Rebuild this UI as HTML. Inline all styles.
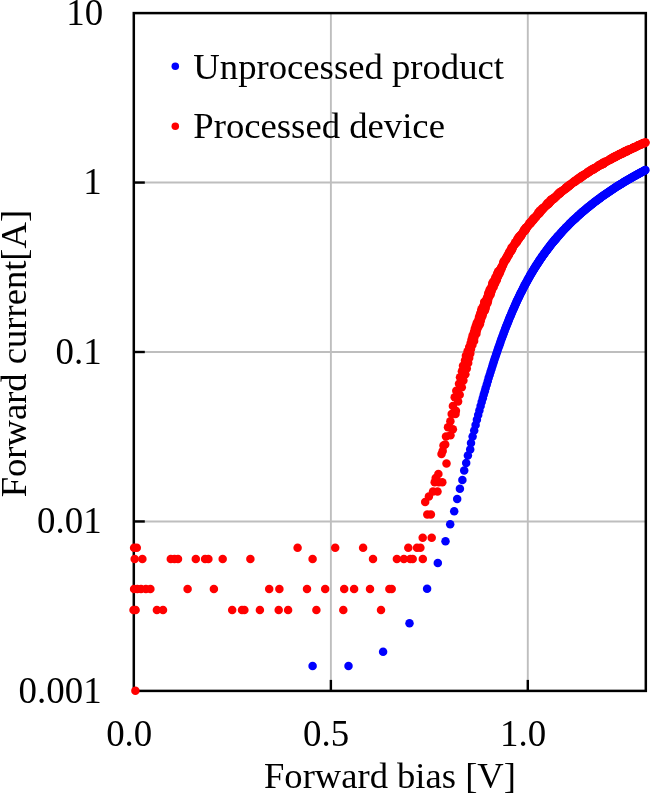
<!DOCTYPE html><html><head><meta charset="utf-8"><title>Forward current vs forward bias</title><style>html,body{margin:0;padding:0;background:#fff}body{width:650px;height:796px;overflow:hidden}</style></head><body><svg width="650" height="796" viewBox="0 0 650 796" style="display:block"><rect width="650" height="796" fill="#fff"/><g stroke="#bebebe" stroke-width="1.9"><line x1="133.8" y1="521.45" x2="645.81" y2="521.45"/><line x1="133.8" y1="352.00" x2="645.81" y2="352.00"/><line x1="133.8" y1="182.55" x2="645.81" y2="182.55"/><line x1="330.88" y1="13.10" x2="330.88" y2="690.90"/><line x1="527.80" y1="13.10" x2="527.80" y2="690.90"/></g><g stroke="#000" stroke-width="2.4"><line x1="133.8" y1="521.45" x2="144.8" y2="521.45"/><line x1="133.8" y1="352.00" x2="144.8" y2="352.00"/><line x1="133.8" y1="182.55" x2="144.8" y2="182.55"/><line x1="330.88" y1="679.90" x2="330.88" y2="690.90"/><line x1="527.80" y1="679.90" x2="527.80" y2="690.90"/></g><rect x="133.8" y="13.10" width="512.01" height="677.80" fill="none" stroke="#000" stroke-width="2.5"/><g fill="#0000ff"><circle cx="312.6" cy="666.1" r="4.25"/><circle cx="348.5" cy="666.1" r="4.25"/><circle cx="383.1" cy="651.7" r="4.25"/><circle cx="409.5" cy="623.2" r="4.25"/><circle cx="427.1" cy="588.8" r="4.25"/><circle cx="437.8" cy="563.1" r="4.25"/><circle cx="445.5" cy="541.2" r="4.25"/><circle cx="450.2" cy="524.2" r="4.25"/><circle cx="454.2" cy="511.2" r="4.25"/><circle cx="457.2" cy="498.9" r="4.25"/><circle cx="459.9" cy="488.8" r="4.25"/><circle cx="462.4" cy="479.9" r="4.25"/><circle cx="464.2" cy="470.6" r="4.25"/><circle cx="466.2" cy="462.9" r="4.25"/><circle cx="467.9" cy="455.5" r="4.25"/><circle cx="470.2" cy="449.4" r="4.25"/><circle cx="471.0" cy="443.0" r="4.25"/><circle cx="472.6" cy="436.5" r="4.25"/><circle cx="474.2" cy="430.5" r="4.25"/><circle cx="475.6" cy="424.9" r="4.25"/><circle cx="476.9" cy="419.8" r="4.25"/><circle cx="478.2" cy="414.9" r="4.25"/><circle cx="479.4" cy="410.4" r="4.25"/><circle cx="480.6" cy="406.1" r="4.25"/><circle cx="481.7" cy="402.1" r="4.25"/><circle cx="482.8" cy="398.3" r="4.25"/><circle cx="483.8" cy="394.6" r="4.25"/><circle cx="484.8" cy="391.2" r="4.25"/><circle cx="485.7" cy="387.9" r="4.25"/><circle cx="486.8" cy="384.4" r="4.25"/><circle cx="487.8" cy="381.0" r="4.25"/><circle cx="488.7" cy="377.8" r="4.25"/><circle cx="489.7" cy="374.7" r="4.25"/><circle cx="490.6" cy="371.8" r="4.25"/><circle cx="491.5" cy="369.0" r="4.25"/><circle cx="492.3" cy="366.2" r="4.25"/><circle cx="493.2" cy="363.6" r="4.25"/><circle cx="494.0" cy="361.1" r="4.25"/><circle cx="494.8" cy="358.6" r="4.25"/><circle cx="495.6" cy="356.2" r="4.25"/><circle cx="496.3" cy="353.9" r="4.25"/><circle cx="497.1" cy="351.7" r="4.25"/><circle cx="497.8" cy="349.5" r="4.25"/><circle cx="498.5" cy="347.4" r="4.25"/><circle cx="499.3" cy="345.4" r="4.25"/><circle cx="500.0" cy="343.4" r="4.25"/><circle cx="500.6" cy="341.4" r="4.25"/><circle cx="501.3" cy="339.6" r="4.25"/><circle cx="502.0" cy="337.7" r="4.25"/><circle cx="502.6" cy="335.9" r="4.25"/><circle cx="503.3" cy="334.2" r="4.25"/><circle cx="503.9" cy="332.5" r="4.25"/><circle cx="504.6" cy="330.8" r="4.25"/><circle cx="505.2" cy="329.1" r="4.25"/><circle cx="505.8" cy="327.5" r="4.25"/><circle cx="506.4" cy="326.0" r="4.25"/><circle cx="507.0" cy="324.4" r="4.25"/><circle cx="507.6" cy="322.9" r="4.25"/><circle cx="508.2" cy="321.5" r="4.25"/><circle cx="508.8" cy="320.0" r="4.25"/><circle cx="509.3" cy="318.6" r="4.25"/><circle cx="509.9" cy="317.2" r="4.25"/><circle cx="510.5" cy="315.9" r="4.25"/><circle cx="511.0" cy="314.5" r="4.25"/><circle cx="511.6" cy="313.2" r="4.25"/><circle cx="512.1" cy="311.9" r="4.25"/><circle cx="512.7" cy="310.6" r="4.25"/><circle cx="513.2" cy="309.4" r="4.25"/><circle cx="513.8" cy="308.2" r="4.25"/><circle cx="514.3" cy="307.0" r="4.25"/><circle cx="514.8" cy="305.8" r="4.25"/><circle cx="515.4" cy="304.6" r="4.25"/><circle cx="515.9" cy="303.5" r="4.25"/><circle cx="516.4" cy="302.3" r="4.25"/><circle cx="516.9" cy="301.2" r="4.25"/><circle cx="517.4" cy="300.1" r="4.25"/><circle cx="517.9" cy="299.0" r="4.25"/><circle cx="518.4" cy="298.0" r="4.25"/><circle cx="518.9" cy="296.9" r="4.25"/><circle cx="519.4" cy="295.9" r="4.25"/><circle cx="519.9" cy="294.8" r="4.25"/><circle cx="520.4" cy="293.8" r="4.25"/><circle cx="520.9" cy="292.8" r="4.25"/><circle cx="521.4" cy="291.9" r="4.25"/><circle cx="521.9" cy="290.9" r="4.25"/><circle cx="522.4" cy="289.9" r="4.25"/><circle cx="522.8" cy="289.0" r="4.25"/><circle cx="523.3" cy="288.1" r="4.25"/><circle cx="523.8" cy="287.1" r="4.25"/><circle cx="524.3" cy="286.2" r="4.25"/><circle cx="524.7" cy="285.3" r="4.25"/><circle cx="525.2" cy="284.4" r="4.25"/><circle cx="525.7" cy="283.6" r="4.25"/><circle cx="526.2" cy="282.7" r="4.25"/><circle cx="526.6" cy="281.8" r="4.25"/><circle cx="527.1" cy="281.0" r="4.25"/><circle cx="527.5" cy="280.2" r="4.25"/><circle cx="528.0" cy="279.3" r="4.25"/><circle cx="528.5" cy="278.5" r="4.25"/><circle cx="528.9" cy="277.7" r="4.25"/><circle cx="529.4" cy="276.9" r="4.25"/><circle cx="529.8" cy="276.1" r="4.25"/><circle cx="530.3" cy="275.3" r="4.25"/><circle cx="530.7" cy="274.6" r="4.25"/><circle cx="531.2" cy="273.8" r="4.25"/><circle cx="531.6" cy="273.0" r="4.25"/><circle cx="532.1" cy="272.3" r="4.25"/><circle cx="532.5" cy="271.5" r="4.25"/><circle cx="533.0" cy="270.8" r="4.25"/><circle cx="533.4" cy="270.1" r="4.25"/><circle cx="533.8" cy="269.4" r="4.25"/><circle cx="534.3" cy="268.6" r="4.25"/><circle cx="534.7" cy="267.9" r="4.25"/><circle cx="535.1" cy="267.2" r="4.25"/><circle cx="535.6" cy="266.5" r="4.25"/><circle cx="536.0" cy="265.8" r="4.25"/><circle cx="536.5" cy="265.2" r="4.25"/><circle cx="536.9" cy="264.5" r="4.25"/><circle cx="537.3" cy="263.8" r="4.25"/><circle cx="537.8" cy="263.2" r="4.25"/><circle cx="538.2" cy="262.5" r="4.25"/><circle cx="538.6" cy="261.9" r="4.25"/><circle cx="539.0" cy="261.2" r="4.25"/><circle cx="539.5" cy="260.6" r="4.25"/><circle cx="539.9" cy="259.9" r="4.25"/><circle cx="540.3" cy="259.3" r="4.25"/><circle cx="540.7" cy="258.7" r="4.25"/><circle cx="541.2" cy="258.1" r="4.25"/><circle cx="541.6" cy="257.4" r="4.25"/><circle cx="542.0" cy="256.8" r="4.25"/><circle cx="542.4" cy="256.2" r="4.25"/><circle cx="542.9" cy="255.6" r="4.25"/><circle cx="543.3" cy="255.0" r="4.25"/><circle cx="543.7" cy="254.5" r="4.25"/><circle cx="544.1" cy="253.9" r="4.25"/><circle cx="544.5" cy="253.3" r="4.25"/><circle cx="544.9" cy="252.7" r="4.25"/><circle cx="545.4" cy="252.1" r="4.25"/><circle cx="545.8" cy="251.6" r="4.25"/><circle cx="546.2" cy="251.0" r="4.25"/><circle cx="546.6" cy="250.5" r="4.25"/><circle cx="547.0" cy="249.9" r="4.25"/><circle cx="547.4" cy="249.4" r="4.25"/><circle cx="547.8" cy="248.8" r="4.25"/><circle cx="548.3" cy="248.3" r="4.25"/><circle cx="548.7" cy="247.7" r="4.25"/><circle cx="549.1" cy="247.2" r="4.25"/><circle cx="549.5" cy="246.7" r="4.25"/><circle cx="549.9" cy="246.1" r="4.25"/><circle cx="550.3" cy="245.6" r="4.25"/><circle cx="550.7" cy="245.1" r="4.25"/><circle cx="551.1" cy="244.6" r="4.25"/><circle cx="551.5" cy="244.1" r="4.25"/><circle cx="551.9" cy="243.6" r="4.25"/><circle cx="552.3" cy="243.1" r="4.25"/><circle cx="552.7" cy="242.6" r="4.25"/><circle cx="553.1" cy="242.1" r="4.25"/><circle cx="553.6" cy="241.6" r="4.25"/><circle cx="554.0" cy="241.1" r="4.25"/><circle cx="554.4" cy="240.6" r="4.25"/><circle cx="554.8" cy="240.1" r="4.25"/><circle cx="555.2" cy="239.6" r="4.25"/><circle cx="555.6" cy="239.2" r="4.25"/><circle cx="556.0" cy="238.7" r="4.25"/><circle cx="556.4" cy="238.2" r="4.25"/><circle cx="556.8" cy="237.7" r="4.25"/><circle cx="557.2" cy="237.3" r="4.25"/><circle cx="557.6" cy="236.8" r="4.25"/><circle cx="558.0" cy="236.3" r="4.25"/><circle cx="558.4" cy="235.9" r="4.25"/><circle cx="558.8" cy="235.4" r="4.25"/><circle cx="559.2" cy="235.0" r="4.25"/><circle cx="560.0" cy="234.1" r="4.25"/><circle cx="560.8" cy="233.2" r="4.25"/><circle cx="561.6" cy="232.3" r="4.25"/><circle cx="562.3" cy="231.5" r="4.25"/><circle cx="563.1" cy="230.6" r="4.25"/><circle cx="563.9" cy="229.8" r="4.25"/><circle cx="564.7" cy="228.9" r="4.25"/><circle cx="565.5" cy="228.1" r="4.25"/><circle cx="566.3" cy="227.3" r="4.25"/><circle cx="567.1" cy="226.5" r="4.25"/><circle cx="567.8" cy="225.7" r="4.25"/><circle cx="568.6" cy="224.9" r="4.25"/><circle cx="569.4" cy="224.1" r="4.25"/><circle cx="570.2" cy="223.3" r="4.25"/><circle cx="571.0" cy="222.6" r="4.25"/><circle cx="571.7" cy="221.8" r="4.25"/><circle cx="572.5" cy="221.1" r="4.25"/><circle cx="573.3" cy="220.3" r="4.25"/><circle cx="574.1" cy="219.6" r="4.25"/><circle cx="574.8" cy="218.9" r="4.25"/><circle cx="575.6" cy="218.2" r="4.25"/><circle cx="576.4" cy="217.4" r="4.25"/><circle cx="577.1" cy="216.7" r="4.25"/><circle cx="577.9" cy="216.0" r="4.25"/><circle cx="578.7" cy="215.3" r="4.25"/><circle cx="579.4" cy="214.7" r="4.25"/><circle cx="580.2" cy="214.0" r="4.25"/><circle cx="581.0" cy="213.3" r="4.25"/><circle cx="581.7" cy="212.6" r="4.25"/><circle cx="582.5" cy="212.0" r="4.25"/><circle cx="583.2" cy="211.3" r="4.25"/><circle cx="584.0" cy="210.7" r="4.25"/><circle cx="584.8" cy="210.0" r="4.25"/><circle cx="585.5" cy="209.4" r="4.25"/><circle cx="586.3" cy="208.8" r="4.25"/><circle cx="587.0" cy="208.1" r="4.25"/><circle cx="587.8" cy="207.5" r="4.25"/><circle cx="588.6" cy="206.9" r="4.25"/><circle cx="589.3" cy="206.3" r="4.25"/><circle cx="590.1" cy="205.7" r="4.25"/><circle cx="590.8" cy="205.1" r="4.25"/><circle cx="591.6" cy="204.5" r="4.25"/><circle cx="592.3" cy="203.9" r="4.25"/><circle cx="593.1" cy="203.3" r="4.25"/><circle cx="593.8" cy="202.7" r="4.25"/><circle cx="594.6" cy="202.1" r="4.25"/><circle cx="595.3" cy="201.6" r="4.25"/><circle cx="596.1" cy="201.0" r="4.25"/><circle cx="596.8" cy="200.4" r="4.25"/><circle cx="597.6" cy="199.9" r="4.25"/><circle cx="598.3" cy="199.3" r="4.25"/><circle cx="599.1" cy="198.7" r="4.25"/><circle cx="599.8" cy="198.2" r="4.25"/><circle cx="600.6" cy="197.7" r="4.25"/><circle cx="601.3" cy="197.1" r="4.25"/><circle cx="602.0" cy="196.6" r="4.25"/><circle cx="602.8" cy="196.0" r="4.25"/><circle cx="603.5" cy="195.5" r="4.25"/><circle cx="604.3" cy="195.0" r="4.25"/><circle cx="605.0" cy="194.5" r="4.25"/><circle cx="605.7" cy="194.0" r="4.25"/><circle cx="606.5" cy="193.4" r="4.25"/><circle cx="607.2" cy="192.9" r="4.25"/><circle cx="608.0" cy="192.4" r="4.25"/><circle cx="608.7" cy="191.9" r="4.25"/><circle cx="609.4" cy="191.4" r="4.25"/><circle cx="610.2" cy="190.9" r="4.25"/><circle cx="610.9" cy="190.4" r="4.25"/><circle cx="611.6" cy="189.9" r="4.25"/><circle cx="612.4" cy="189.5" r="4.25"/><circle cx="613.1" cy="189.0" r="4.25"/><circle cx="613.9" cy="188.5" r="4.25"/><circle cx="614.6" cy="188.0" r="4.25"/><circle cx="615.3" cy="187.5" r="4.25"/><circle cx="616.1" cy="187.1" r="4.25"/><circle cx="616.8" cy="186.6" r="4.25"/><circle cx="617.5" cy="186.1" r="4.25"/><circle cx="618.2" cy="185.7" r="4.25"/><circle cx="619.0" cy="185.2" r="4.25"/><circle cx="619.7" cy="184.8" r="4.25"/><circle cx="620.4" cy="184.3" r="4.25"/><circle cx="621.2" cy="183.9" r="4.25"/><circle cx="621.9" cy="183.4" r="4.25"/><circle cx="622.6" cy="183.0" r="4.25"/><circle cx="623.4" cy="182.5" r="4.25"/><circle cx="624.1" cy="182.1" r="4.25"/><circle cx="624.8" cy="181.6" r="4.25"/><circle cx="625.5" cy="181.2" r="4.25"/><circle cx="626.3" cy="180.8" r="4.25"/><circle cx="627.0" cy="180.3" r="4.25"/><circle cx="627.7" cy="179.9" r="4.25"/><circle cx="628.4" cy="179.5" r="4.25"/><circle cx="629.2" cy="179.1" r="4.25"/><circle cx="629.9" cy="178.7" r="4.25"/><circle cx="630.6" cy="178.2" r="4.25"/><circle cx="631.3" cy="177.8" r="4.25"/><circle cx="632.0" cy="177.4" r="4.25"/><circle cx="632.8" cy="177.0" r="4.25"/><circle cx="633.5" cy="176.6" r="4.25"/><circle cx="634.2" cy="176.2" r="4.25"/><circle cx="634.9" cy="175.8" r="4.25"/><circle cx="635.6" cy="175.4" r="4.25"/><circle cx="636.4" cy="175.0" r="4.25"/><circle cx="637.1" cy="174.6" r="4.25"/><circle cx="637.8" cy="174.2" r="4.25"/><circle cx="638.5" cy="173.8" r="4.25"/><circle cx="639.2" cy="173.4" r="4.25"/><circle cx="640.0" cy="173.0" r="4.25"/><circle cx="640.7" cy="172.6" r="4.25"/><circle cx="641.4" cy="172.2" r="4.25"/><circle cx="642.1" cy="171.9" r="4.25"/><circle cx="642.8" cy="171.5" r="4.25"/><circle cx="643.5" cy="171.1" r="4.25"/><circle cx="644.2" cy="170.7" r="4.25"/><circle cx="645.0" cy="170.3" r="4.25"/><circle cx="645.4" cy="170.1" r="4.25"/></g><g fill="#ff0000"><circle cx="135.4" cy="690.8" r="4.25"/><circle cx="134.1" cy="547.7" r="4.25"/><circle cx="136.8" cy="547.7" r="4.25"/><circle cx="297.6" cy="547.7" r="4.25"/><circle cx="335.2" cy="547.7" r="4.25"/><circle cx="363.1" cy="547.7" r="4.25"/><circle cx="408.3" cy="547.7" r="4.25"/><circle cx="417.0" cy="547.7" r="4.25"/><circle cx="420.4" cy="547.7" r="4.25"/><circle cx="134.7" cy="559.1" r="4.25"/><circle cx="142.4" cy="559.1" r="4.25"/><circle cx="170.8" cy="559.1" r="4.25"/><circle cx="174.5" cy="559.1" r="4.25"/><circle cx="178.0" cy="559.1" r="4.25"/><circle cx="195.8" cy="559.1" r="4.25"/><circle cx="205.1" cy="559.1" r="4.25"/><circle cx="208.4" cy="559.1" r="4.25"/><circle cx="222.7" cy="559.1" r="4.25"/><circle cx="250.4" cy="559.1" r="4.25"/><circle cx="312.6" cy="559.1" r="4.25"/><circle cx="373.0" cy="559.1" r="4.25"/><circle cx="396.9" cy="559.1" r="4.25"/><circle cx="403.9" cy="559.1" r="4.25"/><circle cx="410.3" cy="559.1" r="4.25"/><circle cx="412.7" cy="559.1" r="4.25"/><circle cx="422.8" cy="559.1" r="4.25"/><circle cx="134.1" cy="588.9" r="4.25"/><circle cx="137.3" cy="588.9" r="4.25"/><circle cx="141.0" cy="588.9" r="4.25"/><circle cx="145.9" cy="588.9" r="4.25"/><circle cx="150.4" cy="588.9" r="4.25"/><circle cx="187.6" cy="588.9" r="4.25"/><circle cx="213.9" cy="588.9" r="4.25"/><circle cx="269.2" cy="588.9" r="4.25"/><circle cx="279.4" cy="588.9" r="4.25"/><circle cx="307.0" cy="588.9" r="4.25"/><circle cx="325.2" cy="588.9" r="4.25"/><circle cx="344.2" cy="588.9" r="4.25"/><circle cx="354.1" cy="588.9" r="4.25"/><circle cx="370.0" cy="588.9" r="4.25"/><circle cx="389.4" cy="588.9" r="4.25"/><circle cx="391.7" cy="588.9" r="4.25"/><circle cx="133.5" cy="610.0" r="4.25"/><circle cx="135.6" cy="610.0" r="4.25"/><circle cx="156.9" cy="610.0" r="4.25"/><circle cx="163.0" cy="610.0" r="4.25"/><circle cx="232.2" cy="610.0" r="4.25"/><circle cx="242.0" cy="610.0" r="4.25"/><circle cx="244.4" cy="610.0" r="4.25"/><circle cx="259.9" cy="610.0" r="4.25"/><circle cx="278.7" cy="610.0" r="4.25"/><circle cx="288.1" cy="610.0" r="4.25"/><circle cx="316.4" cy="610.0" r="4.25"/><circle cx="343.3" cy="610.0" r="4.25"/><circle cx="381.0" cy="610.0" r="4.25"/><circle cx="422.7" cy="537.8" r="4.25"/><circle cx="431.7" cy="537.8" r="4.25"/><circle cx="427.3" cy="514.4" r="4.25"/><circle cx="430.9" cy="514.4" r="4.25"/><circle cx="425.2" cy="502.1" r="4.25"/><circle cx="428.9" cy="496.4" r="4.25"/><circle cx="433.0" cy="491.5" r="4.25"/><circle cx="437.5" cy="491.5" r="4.25"/><circle cx="434.7" cy="482.3" r="4.25"/><circle cx="438.8" cy="482.3" r="4.25"/><circle cx="442.3" cy="482.3" r="4.25"/><circle cx="435.7" cy="478.0" r="4.25"/><circle cx="438.4" cy="474.1" r="4.25"/><circle cx="446.5" cy="463.4" r="4.25"/><circle cx="441.5" cy="454.0" r="4.25"/><circle cx="442.7" cy="451.1" r="4.25"/><circle cx="443.5" cy="445.6" r="4.25"/><circle cx="445.2" cy="444.6" r="4.25"/><circle cx="446.0" cy="436.6" r="4.25"/><circle cx="450.5" cy="435.2" r="4.25"/><circle cx="448.0" cy="427.3" r="4.25"/><circle cx="452.9" cy="429.2" r="4.25"/><circle cx="450.4" cy="421.3" r="4.25"/><circle cx="451.7" cy="414.1" r="4.25"/><circle cx="455.5" cy="414.1" r="4.25"/><circle cx="455.9" cy="410.8" r="4.25"/><circle cx="452.9" cy="406.0" r="4.25"/><circle cx="458.1" cy="401.6" r="4.25"/><circle cx="454.7" cy="397.3" r="4.25"/><circle cx="459.7" cy="394.7" r="4.25"/><circle cx="456.3" cy="390.8" r="4.25"/><circle cx="461.8" cy="387.2" r="4.25"/><circle cx="459.0" cy="383.7" r="4.25"/><circle cx="463.4" cy="380.4" r="4.25"/><circle cx="460.0" cy="377.2" r="4.25"/><circle cx="465.4" cy="374.2" r="4.25"/><circle cx="461.9" cy="371.2" r="4.25"/><circle cx="466.8" cy="368.4" r="4.25"/><circle cx="463.0" cy="365.7" r="4.25"/><circle cx="468.2" cy="363.1" r="4.25"/><circle cx="465.0" cy="360.6" r="4.25"/><circle cx="469.2" cy="358.1" r="4.25"/><circle cx="465.9" cy="355.8" r="4.25"/><circle cx="470.3" cy="353.5" r="4.25"/><circle cx="467.6" cy="351.3" r="4.25"/><circle cx="471.0" cy="349.1" r="4.25"/><circle cx="469.2" cy="347.0" r="4.25"/><circle cx="472.4" cy="345.0" r="4.25"/><circle cx="470.6" cy="343.0" r="4.25"/><circle cx="474.1" cy="341.1" r="4.25"/><circle cx="471.6" cy="339.2" r="4.25"/><circle cx="474.4" cy="337.4" r="4.25"/><circle cx="472.6" cy="335.6" r="4.25"/><circle cx="476.4" cy="333.8" r="4.25"/><circle cx="474.0" cy="332.1" r="4.25"/><circle cx="476.9" cy="330.5" r="4.25"/><circle cx="474.8" cy="328.8" r="4.25"/><circle cx="478.2" cy="327.2" r="4.25"/><circle cx="475.8" cy="325.7" r="4.25"/><circle cx="479.9" cy="324.2" r="4.25"/><circle cx="476.8" cy="322.7" r="4.25"/><circle cx="480.6" cy="321.2" r="4.25"/><circle cx="478.4" cy="319.7" r="4.25"/><circle cx="481.4" cy="318.3" r="4.25"/><circle cx="479.0" cy="317.0" r="4.25"/><circle cx="482.6" cy="315.6" r="4.25"/><circle cx="480.0" cy="314.3" r="4.25"/><circle cx="483.1" cy="313.0" r="4.25"/><circle cx="481.0" cy="311.7" r="4.25"/><circle cx="484.9" cy="310.4" r="4.25"/><circle cx="481.4" cy="309.2" r="4.25"/><circle cx="485.7" cy="307.9" r="4.25"/><circle cx="482.8" cy="306.7" r="4.25"/><circle cx="486.0" cy="305.5" r="4.25"/><circle cx="484.4" cy="304.4" r="4.25"/><circle cx="487.4" cy="303.2" r="4.25"/><circle cx="484.2" cy="302.1" r="4.25"/><circle cx="488.0" cy="301.0" r="4.25"/><circle cx="486.1" cy="299.9" r="4.25"/><circle cx="488.3" cy="298.8" r="4.25"/><circle cx="487.0" cy="297.8" r="4.25"/><circle cx="489.2" cy="296.7" r="4.25"/><circle cx="487.9" cy="295.7" r="4.25"/><circle cx="490.6" cy="294.6" r="4.25"/><circle cx="488.2" cy="293.6" r="4.25"/><circle cx="491.0" cy="292.7" r="4.25"/><circle cx="489.1" cy="291.7" r="4.25"/><circle cx="491.7" cy="290.7" r="4.25"/><circle cx="489.7" cy="289.8" r="4.25"/><circle cx="492.3" cy="288.8" r="4.25"/><circle cx="490.8" cy="287.9" r="4.25"/><circle cx="493.6" cy="287.0" r="4.25"/><circle cx="492.1" cy="286.1" r="4.25"/><circle cx="493.6" cy="285.2" r="4.25"/><circle cx="492.2" cy="284.3" r="4.25"/><circle cx="495.1" cy="283.4" r="4.25"/><circle cx="492.6" cy="282.5" r="4.25"/><circle cx="495.5" cy="281.7" r="4.25"/><circle cx="494.0" cy="280.8" r="4.25"/><circle cx="496.8" cy="280.0" r="4.25"/><circle cx="495.0" cy="279.2" r="4.25"/><circle cx="497.0" cy="278.4" r="4.25"/><circle cx="495.4" cy="277.6" r="4.25"/><circle cx="497.8" cy="276.8" r="4.25"/><circle cx="496.8" cy="276.0" r="4.25"/><circle cx="498.5" cy="275.2" r="4.25"/><circle cx="496.9" cy="274.4" r="4.25"/><circle cx="499.5" cy="273.6" r="4.25"/><circle cx="497.7" cy="272.9" r="4.25"/><circle cx="500.1" cy="272.1" r="4.25"/><circle cx="498.1" cy="271.4" r="4.25"/><circle cx="500.2" cy="270.7" r="4.25"/><circle cx="499.7" cy="269.9" r="4.25"/><circle cx="501.3" cy="269.2" r="4.25"/><circle cx="500.8" cy="268.5" r="4.25"/><circle cx="501.6" cy="267.8" r="4.25"/><circle cx="501.5" cy="267.1" r="4.25"/><circle cx="502.2" cy="266.4" r="4.25"/><circle cx="502.4" cy="265.7" r="4.25"/><circle cx="503.1" cy="265.0" r="4.25"/><circle cx="502.9" cy="264.4" r="4.25"/><circle cx="503.3" cy="263.7" r="4.25"/><circle cx="503.6" cy="263.0" r="4.25"/><circle cx="503.9" cy="262.4" r="4.25"/><circle cx="503.4" cy="261.7" r="4.25"/><circle cx="505.1" cy="261.1" r="4.25"/><circle cx="504.5" cy="260.4" r="4.25"/><circle cx="505.9" cy="259.8" r="4.25"/><circle cx="506.3" cy="259.2" r="4.25"/><circle cx="506.3" cy="258.6" r="4.25"/><circle cx="506.0" cy="257.9" r="4.25"/><circle cx="507.3" cy="257.3" r="4.25"/><circle cx="507.1" cy="256.7" r="4.25"/><circle cx="507.9" cy="256.1" r="4.25"/><circle cx="507.5" cy="255.5" r="4.25"/><circle cx="508.9" cy="254.9" r="4.25"/><circle cx="508.4" cy="254.3" r="4.25"/><circle cx="508.9" cy="253.8" r="4.25"/><circle cx="510.0" cy="252.6" r="4.25"/><circle cx="509.2" cy="252.0" r="4.25"/><circle cx="510.7" cy="251.5" r="4.25"/><circle cx="510.0" cy="250.9" r="4.25"/><circle cx="511.7" cy="250.3" r="4.25"/><circle cx="511.0" cy="249.8" r="4.25"/><circle cx="512.0" cy="249.2" r="4.25"/><circle cx="511.4" cy="248.7" r="4.25"/><circle cx="512.6" cy="248.2" r="4.25"/><circle cx="511.6" cy="247.6" r="4.25"/><circle cx="512.9" cy="247.1" r="4.25"/><circle cx="513.2" cy="246.0" r="4.25"/><circle cx="513.9" cy="245.5" r="4.25"/><circle cx="514.5" cy="244.5" r="4.25"/><circle cx="515.0" cy="244.0" r="4.25"/><circle cx="516.0" cy="243.0" r="4.25"/><circle cx="515.0" cy="242.5" r="4.25"/><circle cx="517.0" cy="242.0" r="4.25"/><circle cx="517.2" cy="241.0" r="4.25"/><circle cx="516.8" cy="240.5" r="4.25"/><circle cx="517.8" cy="240.0" r="4.25"/><circle cx="517.2" cy="239.5" r="4.25"/><circle cx="518.9" cy="239.1" r="4.25"/><circle cx="518.0" cy="238.6" r="4.25"/><circle cx="519.2" cy="238.1" r="4.25"/><circle cx="518.5" cy="237.6" r="4.25"/><circle cx="519.6" cy="237.2" r="4.25"/><circle cx="519.0" cy="236.7" r="4.25"/><circle cx="520.9" cy="236.3" r="4.25"/><circle cx="520.0" cy="235.8" r="4.25"/><circle cx="521.5" cy="235.3" r="4.25"/><circle cx="520.7" cy="234.9" r="4.25"/><circle cx="521.5" cy="234.4" r="4.25"/><circle cx="522.2" cy="233.6" r="4.25"/><circle cx="522.9" cy="232.7" r="4.25"/><circle cx="523.2" cy="231.8" r="4.25"/><circle cx="524.9" cy="231.0" r="4.25"/><circle cx="523.7" cy="230.5" r="4.25"/><circle cx="524.6" cy="230.1" r="4.25"/><circle cx="526.1" cy="229.3" r="4.25"/><circle cx="524.7" cy="228.9" r="4.25"/><circle cx="526.1" cy="228.4" r="4.25"/><circle cx="525.6" cy="228.0" r="4.25"/><circle cx="526.2" cy="227.6" r="4.25"/><circle cx="526.7" cy="227.2" r="4.25"/><circle cx="527.5" cy="226.8" r="4.25"/><circle cx="527.8" cy="226.0" r="4.25"/><circle cx="528.5" cy="225.2" r="4.25"/><circle cx="529.0" cy="224.4" r="4.25"/><circle cx="530.4" cy="223.7" r="4.25"/><circle cx="529.4" cy="223.3" r="4.25"/><circle cx="530.7" cy="222.9" r="4.25"/><circle cx="530.2" cy="222.5" r="4.25"/><circle cx="531.1" cy="222.1" r="4.25"/><circle cx="532.1" cy="221.4" r="4.25"/><circle cx="531.3" cy="221.0" r="4.25"/><circle cx="532.4" cy="220.6" r="4.25"/><circle cx="533.5" cy="219.9" r="4.25"/><circle cx="532.9" cy="219.5" r="4.25"/><circle cx="533.8" cy="219.2" r="4.25"/><circle cx="533.1" cy="218.8" r="4.25"/><circle cx="533.8" cy="218.4" r="4.25"/><circle cx="535.3" cy="217.7" r="4.25"/><circle cx="534.5" cy="217.4" r="4.25"/><circle cx="535.8" cy="217.0" r="4.25"/><circle cx="536.5" cy="216.3" r="4.25"/><circle cx="536.6" cy="215.6" r="4.25"/><circle cx="537.0" cy="214.9" r="4.25"/><circle cx="538.2" cy="214.3" r="4.25"/><circle cx="539.3" cy="213.6" r="4.25"/><circle cx="538.8" cy="213.2" r="4.25"/><circle cx="538.3" cy="212.6" r="4.25"/><circle cx="540.2" cy="212.2" r="4.25"/><circle cx="539.1" cy="211.9" r="4.25"/><circle cx="540.5" cy="211.6" r="4.25"/><circle cx="540.5" cy="210.9" r="4.25"/><circle cx="540.0" cy="210.6" r="4.25"/><circle cx="541.8" cy="210.3" r="4.25"/><circle cx="542.3" cy="209.6" r="4.25"/><circle cx="542.7" cy="209.0" r="4.25"/><circle cx="542.0" cy="208.7" r="4.25"/><circle cx="543.5" cy="208.4" r="4.25"/><circle cx="542.8" cy="208.1" r="4.25"/><circle cx="543.6" cy="207.8" r="4.25"/><circle cx="544.8" cy="207.1" r="4.25"/><circle cx="545.1" cy="206.5" r="4.25"/><circle cx="545.7" cy="205.9" r="4.25"/><circle cx="546.7" cy="205.3" r="4.25"/><circle cx="546.0" cy="205.0" r="4.25"/><circle cx="547.4" cy="204.7" r="4.25"/><circle cx="548.6" cy="204.1" r="4.25"/><circle cx="547.0" cy="203.8" r="4.25"/><circle cx="548.8" cy="203.5" r="4.25"/><circle cx="548.0" cy="203.2" r="4.25"/><circle cx="549.1" cy="202.9" r="4.25"/><circle cx="548.2" cy="202.6" r="4.25"/><circle cx="549.5" cy="202.4" r="4.25"/><circle cx="550.3" cy="201.8" r="4.25"/><circle cx="550.8" cy="201.2" r="4.25"/><circle cx="551.5" cy="200.6" r="4.25"/><circle cx="550.3" cy="200.4" r="4.25"/><circle cx="551.9" cy="200.1" r="4.25"/><circle cx="551.0" cy="199.8" r="4.25"/><circle cx="551.6" cy="199.5" r="4.25"/><circle cx="552.1" cy="199.2" r="4.25"/><circle cx="553.8" cy="199.0" r="4.25"/><circle cx="553.0" cy="198.7" r="4.25"/><circle cx="553.5" cy="198.4" r="4.25"/><circle cx="554.9" cy="197.9" r="4.25"/><circle cx="554.2" cy="197.6" r="4.25"/><circle cx="555.2" cy="197.3" r="4.25"/><circle cx="555.8" cy="196.8" r="4.25"/><circle cx="556.6" cy="196.3" r="4.25"/><circle cx="556.8" cy="195.5" r="4.25"/><circle cx="557.3" cy="195.2" r="4.25"/><circle cx="557.7" cy="194.7" r="4.25"/><circle cx="558.8" cy="194.2" r="4.25"/><circle cx="557.9" cy="193.9" r="4.25"/><circle cx="560.0" cy="193.6" r="4.25"/><circle cx="559.9" cy="192.9" r="4.25"/><circle cx="560.7" cy="192.6" r="4.25"/><circle cx="559.3" cy="192.4" r="4.25"/><circle cx="561.3" cy="192.1" r="4.25"/><circle cx="561.8" cy="191.6" r="4.25"/><circle cx="561.0" cy="191.4" r="4.25"/><circle cx="562.3" cy="191.1" r="4.25"/><circle cx="563.4" cy="190.6" r="4.25"/><circle cx="562.7" cy="190.4" r="4.25"/><circle cx="563.6" cy="190.1" r="4.25"/><circle cx="564.0" cy="189.7" r="4.25"/><circle cx="565.0" cy="188.9" r="4.25"/><circle cx="565.8" cy="188.7" r="4.25"/><circle cx="566.3" cy="188.2" r="4.25"/><circle cx="565.7" cy="188.0" r="4.25"/><circle cx="566.7" cy="187.7" r="4.25"/><circle cx="566.2" cy="187.5" r="4.25"/><circle cx="567.2" cy="187.3" r="4.25"/><circle cx="568.4" cy="186.8" r="4.25"/><circle cx="567.7" cy="186.6" r="4.25"/><circle cx="568.4" cy="186.3" r="4.25"/><circle cx="567.9" cy="186.1" r="4.25"/><circle cx="568.8" cy="185.9" r="4.25"/><circle cx="569.8" cy="185.4" r="4.25"/><circle cx="569.5" cy="184.7" r="4.25"/><circle cx="570.9" cy="184.5" r="4.25"/><circle cx="571.3" cy="184.0" r="4.25"/><circle cx="572.0" cy="183.6" r="4.25"/><circle cx="572.2" cy="182.9" r="4.25"/><circle cx="573.0" cy="182.7" r="4.25"/><circle cx="573.6" cy="182.3" r="4.25"/><circle cx="575.0" cy="181.8" r="4.25"/><circle cx="574.0" cy="181.6" r="4.25"/><circle cx="574.9" cy="181.4" r="4.25"/><circle cx="575.7" cy="180.9" r="4.25"/><circle cx="575.0" cy="180.7" r="4.25"/><circle cx="576.5" cy="180.5" r="4.25"/><circle cx="576.4" cy="179.9" r="4.25"/><circle cx="577.1" cy="179.7" r="4.25"/><circle cx="577.7" cy="179.2" r="4.25"/><circle cx="579.2" cy="178.8" r="4.25"/><circle cx="578.0" cy="178.6" r="4.25"/><circle cx="579.7" cy="178.4" r="4.25"/><circle cx="579.7" cy="177.8" r="4.25"/><circle cx="581.2" cy="177.6" r="4.25"/><circle cx="580.0" cy="177.4" r="4.25"/><circle cx="580.9" cy="177.2" r="4.25"/><circle cx="580.2" cy="177.0" r="4.25"/><circle cx="581.7" cy="176.8" r="4.25"/><circle cx="582.7" cy="176.3" r="4.25"/><circle cx="581.6" cy="176.1" r="4.25"/><circle cx="582.6" cy="175.9" r="4.25"/><circle cx="583.6" cy="175.5" r="4.25"/><circle cx="583.0" cy="175.3" r="4.25"/><circle cx="584.2" cy="175.1" r="4.25"/><circle cx="584.3" cy="174.5" r="4.25"/><circle cx="585.4" cy="174.3" r="4.25"/><circle cx="586.1" cy="173.9" r="4.25"/><circle cx="586.7" cy="173.6" r="4.25"/><circle cx="586.1" cy="173.4" r="4.25"/><circle cx="586.9" cy="173.0" r="4.25"/><circle cx="588.6" cy="172.4" r="4.25"/><circle cx="587.9" cy="171.8" r="4.25"/><circle cx="589.4" cy="171.6" r="4.25"/><circle cx="590.3" cy="171.2" r="4.25"/><circle cx="590.1" cy="170.7" r="4.25"/><circle cx="590.9" cy="170.5" r="4.25"/><circle cx="591.9" cy="170.1" r="4.25"/><circle cx="591.1" cy="169.9" r="4.25"/><circle cx="592.6" cy="169.7" r="4.25"/><circle cx="591.7" cy="169.6" r="4.25"/><circle cx="593.5" cy="169.4" r="4.25"/><circle cx="594.1" cy="169.0" r="4.25"/><circle cx="593.2" cy="168.8" r="4.25"/><circle cx="594.5" cy="168.6" r="4.25"/><circle cx="593.9" cy="168.5" r="4.25"/><circle cx="594.8" cy="168.3" r="4.25"/><circle cx="596.4" cy="167.6" r="4.25"/><circle cx="595.7" cy="167.4" r="4.25"/><circle cx="596.8" cy="167.2" r="4.25"/><circle cx="598.0" cy="166.5" r="4.25"/><circle cx="598.5" cy="166.0" r="4.25"/><circle cx="599.2" cy="165.8" r="4.25"/><circle cx="598.3" cy="165.6" r="4.25"/><circle cx="599.4" cy="165.4" r="4.25"/><circle cx="600.5" cy="165.1" r="4.25"/><circle cx="599.3" cy="164.9" r="4.25"/><circle cx="601.4" cy="164.7" r="4.25"/><circle cx="600.7" cy="164.6" r="4.25"/><circle cx="602.0" cy="164.4" r="4.25"/><circle cx="601.0" cy="164.2" r="4.25"/><circle cx="602.0" cy="164.0" r="4.25"/><circle cx="601.3" cy="163.9" r="4.25"/><circle cx="603.6" cy="163.7" r="4.25"/><circle cx="602.3" cy="163.5" r="4.25"/><circle cx="603.9" cy="163.4" r="4.25"/><circle cx="602.7" cy="163.2" r="4.25"/><circle cx="604.0" cy="163.0" r="4.25"/><circle cx="602.9" cy="162.8" r="4.25"/><circle cx="604.4" cy="162.7" r="4.25"/><circle cx="605.1" cy="162.2" r="4.25"/><circle cx="605.8" cy="162.0" r="4.25"/><circle cx="604.9" cy="161.8" r="4.25"/><circle cx="606.1" cy="161.7" r="4.25"/><circle cx="606.9" cy="161.3" r="4.25"/><circle cx="607.8" cy="160.7" r="4.25"/><circle cx="608.7" cy="160.4" r="4.25"/><circle cx="609.7" cy="159.7" r="4.25"/><circle cx="610.8" cy="159.4" r="4.25"/><circle cx="609.9" cy="159.2" r="4.25"/><circle cx="611.6" cy="159.1" r="4.25"/><circle cx="610.4" cy="158.9" r="4.25"/><circle cx="611.8" cy="158.7" r="4.25"/><circle cx="611.2" cy="158.6" r="4.25"/><circle cx="612.0" cy="158.4" r="4.25"/><circle cx="612.8" cy="158.1" r="4.25"/><circle cx="613.5" cy="157.8" r="4.25"/><circle cx="612.7" cy="157.6" r="4.25"/><circle cx="614.1" cy="157.5" r="4.25"/><circle cx="615.0" cy="157.2" r="4.25"/><circle cx="614.0" cy="157.0" r="4.25"/><circle cx="615.3" cy="156.8" r="4.25"/><circle cx="614.3" cy="156.7" r="4.25"/><circle cx="616.1" cy="156.5" r="4.25"/><circle cx="615.1" cy="156.4" r="4.25"/><circle cx="615.9" cy="156.2" r="4.25"/><circle cx="617.5" cy="155.9" r="4.25"/><circle cx="616.2" cy="155.8" r="4.25"/><circle cx="617.3" cy="155.6" r="4.25"/><circle cx="617.9" cy="155.3" r="4.25"/><circle cx="618.6" cy="155.0" r="4.25"/><circle cx="619.7" cy="154.7" r="4.25"/><circle cx="618.8" cy="154.5" r="4.25"/><circle cx="620.2" cy="154.4" r="4.25"/><circle cx="619.3" cy="154.2" r="4.25"/><circle cx="620.2" cy="154.1" r="4.25"/><circle cx="619.6" cy="153.9" r="4.25"/><circle cx="621.9" cy="153.8" r="4.25"/><circle cx="620.8" cy="153.6" r="4.25"/><circle cx="622.0" cy="153.5" r="4.25"/><circle cx="622.5" cy="153.2" r="4.25"/><circle cx="623.7" cy="152.9" r="4.25"/><circle cx="622.3" cy="152.8" r="4.25"/><circle cx="623.1" cy="152.6" r="4.25"/><circle cx="623.8" cy="152.3" r="4.25"/><circle cx="625.1" cy="152.0" r="4.25"/><circle cx="624.1" cy="151.9" r="4.25"/><circle cx="625.0" cy="151.7" r="4.25"/><circle cx="626.5" cy="151.4" r="4.25"/><circle cx="624.7" cy="151.3" r="4.25"/><circle cx="626.8" cy="151.2" r="4.25"/><circle cx="625.9" cy="151.0" r="4.25"/><circle cx="627.6" cy="150.9" r="4.25"/><circle cx="626.5" cy="150.7" r="4.25"/><circle cx="627.7" cy="150.6" r="4.25"/><circle cx="626.9" cy="150.4" r="4.25"/><circle cx="628.1" cy="150.3" r="4.25"/><circle cx="629.3" cy="150.0" r="4.25"/><circle cx="628.5" cy="149.9" r="4.25"/><circle cx="629.3" cy="149.7" r="4.25"/><circle cx="628.6" cy="149.6" r="4.25"/><circle cx="630.1" cy="149.4" r="4.25"/><circle cx="630.8" cy="149.2" r="4.25"/><circle cx="632.0" cy="148.6" r="4.25"/><circle cx="633.3" cy="148.3" r="4.25"/><circle cx="632.2" cy="148.2" r="4.25"/><circle cx="632.9" cy="148.1" r="4.25"/><circle cx="633.6" cy="147.8" r="4.25"/><circle cx="634.4" cy="147.5" r="4.25"/><circle cx="633.6" cy="147.4" r="4.25"/><circle cx="635.2" cy="147.2" r="4.25"/><circle cx="634.6" cy="147.1" r="4.25"/><circle cx="635.7" cy="147.0" r="4.25"/><circle cx="636.7" cy="146.4" r="4.25"/><circle cx="637.5" cy="146.1" r="4.25"/><circle cx="638.1" cy="145.6" r="4.25"/><circle cx="639.1" cy="145.3" r="4.25"/><circle cx="638.1" cy="145.2" r="4.25"/><circle cx="639.8" cy="145.1" r="4.25"/><circle cx="640.8" cy="144.5" r="4.25"/><circle cx="640.2" cy="144.4" r="4.25"/><circle cx="641.5" cy="144.3" r="4.25"/><circle cx="642.2" cy="144.0" r="4.25"/><circle cx="641.3" cy="143.9" r="4.25"/><circle cx="642.8" cy="143.8" r="4.25"/><circle cx="644.1" cy="143.2" r="4.25"/><circle cx="643.0" cy="143.1" r="4.25"/><circle cx="644.7" cy="143.0" r="4.25"/><circle cx="645.4" cy="142.5" r="4.25"/><circle cx="645.4" cy="142.4" r="4.25"/></g><circle cx="175.3" cy="66.3" r="3.75" fill="#0000ff"/><circle cx="175.3" cy="126.2" r="3.75" fill="#ff0000"/><g font-family="'Liberation Serif', 'Times New Roman', serif" font-size="36.6" fill="#000"><text x="193.3" y="78.6" font-size="36.7">Unprocessed product</text><text x="193.3" y="138.2" font-size="36.7">Processed device</text><text x="103.2" y="24.7" text-anchor="end" font-size="36.9">10</text><text x="101.6" y="194.2" text-anchor="end" font-size="36.9">1</text><text x="101.6" y="363.6" text-anchor="end" font-size="36.9">0.1</text><text x="101.6" y="533.1" text-anchor="end" font-size="36.9">0.01</text><text x="101.6" y="702.5" text-anchor="end" font-size="36.9">0.001</text><text x="129.2" y="746.2" text-anchor="middle" font-size="36.9">0.0</text><text x="326.1" y="746.2" text-anchor="middle" font-size="36.9">0.5</text><text x="523.1" y="746.2" text-anchor="middle" font-size="36.9">1.0</text><text x="264" y="788.2">Forward bias [V]</text><text transform="translate(26.2,497.3) rotate(-90)">Forward current[A]</text></g></svg></body></html>
